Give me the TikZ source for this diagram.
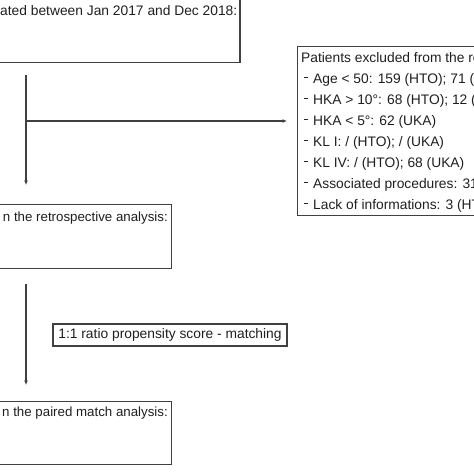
\documentclass[tikz,border=0pt]{standalone}
\usepackage{fontspec}
\setmainfont{Liberation Sans}
\usetikzlibrary{arrows.meta}
\definecolor{flowgray}{RGB}{64,64,64}
\tikzset{
  flow-line/.style={
    draw=flowgray,
    line width=1.1pt
  },
  flow-box/.style={
    flow-line,
    rectangle,
    inner sep=0pt
  },
  flow-text/.style={inner sep=0pt, text=black!88, font=\fontsize{13.8}{16}\selectfont},
  flow-text-small/.style={flow-text, font=\fontsize{13.3}{16}\selectfont},
  flow-arrow/.style={flow-line, -{Latex[length=4.5pt,width=4pt]}},
  flow-dash/.style={draw=black!85, line width=1.1pt},
  label-box/.style={flow-box, flow-text, minimum width=234pt, minimum height=22pt}
}

\begin{document}
\begin{tikzpicture}[x=1pt,y=-1pt]
  \useasboundingbox (0,0) rectangle (474,474);
  \clip (0,0) rectangle (474,474);
  % main column, cut off at the left edge
  \node[flow-box, anchor=south east, minimum width=320pt, minimum height=75pt] (treated) at (240.5,63) {};
  \node[flow-text, anchor=base east] (treated-text) at (237.5,15) {ated between Jan 2017 and Dec 2018:};
  \node[flow-box, anchor=north east, minimum width=260pt, minimum height=64pt] (included) at (172,204) {};
  \node[flow-text-small, anchor=base east] (included-text) at (168,221) {n the retrospective analysis:};
  \node[flow-box, anchor=north east, minimum width=260pt, minimum height=63pt] (paired) at (172,401) {};
  \node[flow-text-small, anchor=base east] (paired-text) at (168,416) {n the paired match analysis:};
  % exclusion box, cut off at the right edge
  \node[flow-box, anchor=north west, minimum width=260pt, minimum height=169pt] (excluded) at (297,46) {};
  \node[flow-text, anchor=base west] (excluded-title) at (301,62) {Patients excluded from the re};
  \foreach \i/\txt in {1/{Age < 50: 159 (HTO); 71 (},
                       2/{HKA > 10°: 68 (HTO); 12 (},
                       3/{HKA < 5°: 62 (UKA)},
                       4/{KL I: / (HTO); / (UKA)},
                       5/{KL IV: / (HTO); 68 (UKA)},
                       6/{Associated procedures: 31},
                       7/{Lack of informations: 3 (HT}} {
    \node[flow-text, anchor=base west] (excl-\i) at (313,{62+21.1*\i}) {\txt};
    \draw[flow-dash] ([xshift=-9pt,yshift=6pt]excl-\i.base west) -- ++(4,0);
  }
  % matching step
  \node[label-box] (matching) at (170,335) {1:1 ratio propensity score - matching};
  % connectors
  \coordinate (trunk) at (26,0);
  \coordinate (branch) at (26,121);
  \draw[flow-arrow, shorten <=12pt, shorten >=19pt] (treated.south -| trunk) -- (included.north -| trunk);
  \draw[flow-arrow, shorten >=10pt] (branch) -- (branch -| excluded.west);
  \draw[flow-arrow, shorten <=15pt, shorten >=16pt] (included.south -| trunk) -- (paired.north -| trunk);
\end{tikzpicture}
\end{document}
